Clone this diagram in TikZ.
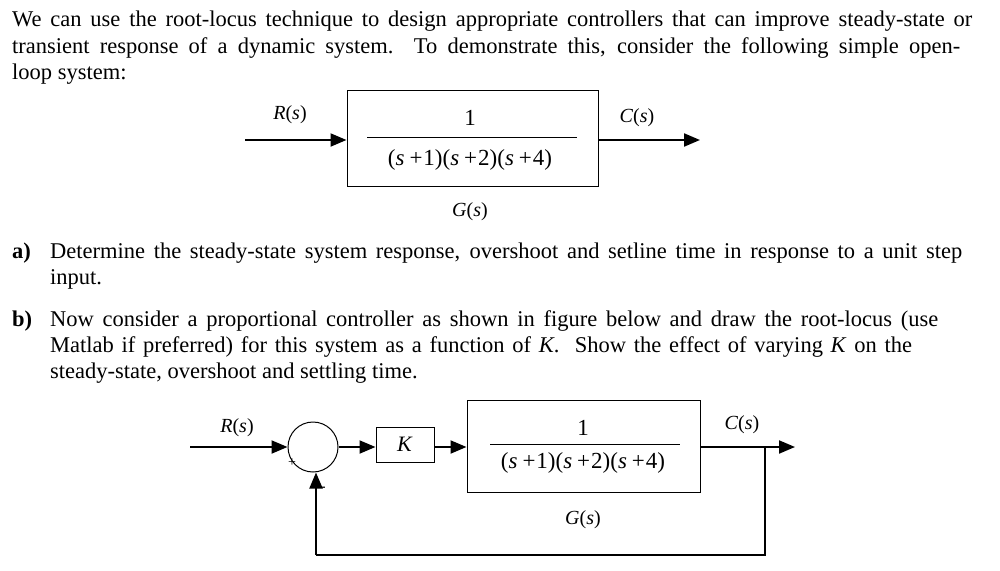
\documentclass[tikz,border=0pt]{standalone}
\usepackage{fontspec}
\setmainfont{Liberation Serif}
\usetikzlibrary{arrows.meta}
\newcommand{\vs}{\textit{s}}
\newcommand{\den}{(\vs\kern5pt+\kern1pt1)(\vs\kern5pt+\kern1pt2)(\vs\kern5pt+\kern1pt4)}
\begin{document}
\begin{tikzpicture}[x=1pt,y=-1pt,
  txt/.style={anchor=base west,inner sep=0pt,font=\fontsize{22.5}{26}\selectfont},
  lbl/.style={inner sep=0pt,font=\fontsize{20}{24}\selectfont},
  frac/.style={inner sep=0pt,font=\fontsize{23}{26}\selectfont},
  blk/.style={draw,line width=1pt},
  sig/.style={line width=2pt,-{Triangle[length=16pt,width=13pt]}},
  ln/.style={line width=2pt}]
\useasboundingbox (0,0) rectangle (1000,570);
\node[txt] (l1) at (12,27) {\makebox[960pt][s]{We can use the root-locus technique to design appropriate controllers that can improve steady-state or}};
\node[txt] (l2) at (12,53) {\makebox[948pt][s]{transient response of a dynamic system.\ \ To demonstrate this, consider the following simple open-}};
\node[txt] (l3) at (12,79) {loop system:};
% top diagram
\node[blk,minimum width=251pt,minimum height=96pt] (g1) at (472.5,138) {};
\node[frac] (n1) at (470,118) {1};
\draw[line width=0.8pt] (367,137) -- (577,137);
\node[frac] (d1) at (470,160) {\den};
\node[lbl] (r1) at (290,115) {\textit{R}(\vs)};
\node[lbl] (c1) at (637,118) {\textit{C}(\vs)};
\node[lbl] (gs1) at (470,212) {\textit{G}(\vs)};
\coordinate (in1) at (245,140);
\coordinate (out1) at (700,140);
\draw[sig] (in1) -- (g1.west|-in1);
\draw[sig] (g1.east|-out1) -- (out1);
% questions
\node[txt] (qa) at (12,258) {\textbf{a)}};
\node[txt] (qa1) at (50,258) {\makebox[912pt][s]{Determine the steady-state system response, overshoot and setline time in response to a unit step}};
\node[txt] (qa2) at (50,284) {input.};
\node[txt] (qb) at (12,326) {\textbf{b)}};
\node[txt] (qb1) at (50,326) {\makebox[888pt][s]{Now consider a proportional controller as shown in figure below and draw the root-locus (use}};
\node[txt] (qb2) at (50,352) {\makebox[862pt][s]{Matlab if preferred) for this system as a function of \textit{K}.\ \ Show the effect of varying \textit{K} on the}};
\node[txt] (qb3) at (50,378) {steady-state, overshoot and settling time.};
% lower diagram
\node[draw,line width=1pt,circle,minimum size=50pt,inner sep=0pt] (sum) at (313,447) {};
\node[blk,minimum width=58pt,minimum height=35pt] (kb) at (405,444.5) {\fontsize{22}{24}\selectfont\textit{K}};
\node[blk,minimum width=233pt,minimum height=92pt] (g2) at (583.5,446) {};
\node[frac] (n2) at (583,428) {1};
\draw[line width=0.8pt] (490,444) -- (680,444);
\node[frac] (d2) at (583,463) {\den};
\node[lbl] (r2) at (237,428) {\textit{R}(\vs)};
\node[lbl] (c2) at (742,425) {\textit{C}(\vs)};
\node[lbl] (gs2) at (583,520) {\textit{G}(\vs)};
\node[inner sep=0pt,font=\fontsize{14}{16}\selectfont] (plus) at (292,463) {+};
\node[inner sep=0pt,font=\fontsize{16}{16}\selectfont] (minus) at (323,489) {-};
\coordinate (in2) at (190,447);
\coordinate (out2) at (795,447);
\coordinate (br) at (765,447);
\coordinate (fb) at (316,555);
\draw[sig] (in2) -- (sum.west);
\draw[sig] (sum.east) -- (kb.west|-sum);
\draw[sig] (kb.east|-sum) -- (g2.west|-sum);
\draw[sig] (g2.east|-out2) -- (out2);
\draw[ln] (br) |- (fb);
\draw[sig] (fb) -- (fb|-sum.south);
\end{tikzpicture}
\end{document}
